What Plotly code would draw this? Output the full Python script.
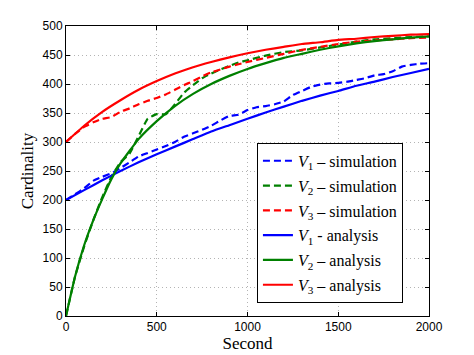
import plotly.graph_objects as go

# ---- data ----
t_analysis = [0, 100, 200, 300, 400, 500, 600, 700, 800, 900, 1000,
              1100, 1200, 1300, 1400, 1500, 1600, 1700, 1800, 1900, 2000]
v1_analysis = [200, 217, 234, 250, 265, 279, 292, 305, 318, 329, 340,
               351, 361, 371, 380, 388, 397, 404, 412, 419, 426]
v3_analysis = [300, 328, 352, 372, 390, 405, 418, 429, 438, 446, 453,
               459, 464, 469, 472, 476, 478, 481, 483, 485, 486]

t_v2_analysis = [0, 50, 100, 150, 200, 250, 300, 400, 500, 600, 700, 800, 900, 1000,
                 1100, 1200, 1300, 1400, 1500, 1600, 1700, 1800, 1900, 2000]
v2_analysis = [0, 68, 122, 165, 202, 236, 263, 305, 336, 362, 383, 400, 414, 426,
               436, 445, 452, 459, 465, 470, 474, 477, 480, 482]

t_v1_sim = [0, 50, 100, 150, 200, 250, 300, 350, 400, 450, 500, 550, 600, 650, 700,
            750, 800, 850, 900, 950, 1000, 1050, 1100, 1150, 1200, 1250, 1300, 1350,
            1400, 1450, 1500, 1550, 1600, 1650, 1700, 1750, 1800, 1850, 1900, 1950, 2000]
v1_sim = [200, 210, 220, 233, 240, 246, 255, 265, 275, 281, 287, 293, 300, 309, 315,
          321, 328, 337, 345, 347, 355, 360, 362, 365, 370, 381, 388, 395,
          399, 401, 402, 404, 407, 410, 415, 417, 422, 430, 433, 435, 436]

t_sim = [0, 50, 100, 150, 200, 250, 300, 350, 400, 450, 500, 550, 600, 650, 700,
         750, 800, 850, 900, 950, 1000, 1100, 1200, 1300, 1400, 1500, 1600, 1700,
         1800, 1900, 2000]
v2_sim = [0, 68, 120, 165, 205, 240, 265, 280, 310, 340, 348, 348, 365, 385, 398,
          410, 418, 425, 431, 437, 441, 449, 455, 458, 463, 468, 473, 477,
          479, 481, 482]
v3_sim = [300, 314, 326, 334, 340, 343, 352, 358, 365, 371, 376, 382, 390, 398, 405,
          413, 420, 425, 430, 434, 438, 445, 452, 459, 464, 469, 473, 475,
          477, 479, 480]

x_ticks = [0, 500, 1000, 1500, 2000]
y_ticks = [0, 50, 100, 150, 200, 250, 300, 350, 400, 450, 500]

BLUE = "#0000ff"
GREEN = "#008000"
RED = "#ff0000"
DASH = "7px,4px"

series = [
    (t_v1_sim, v1_sim, BLUE, DASH, "<i>V</i><sub>1</sub> \u2013 simulation"),
    (t_sim, v2_sim, GREEN, DASH, "<i>V</i><sub>2</sub> \u2013 simulation"),
    (t_sim, v3_sim, RED, DASH, "<i>V</i><sub>3</sub> \u2013 simulation"),
    (t_analysis, v1_analysis, BLUE, "solid", "<i>V</i><sub>1</sub> - analysis"),
    (t_v2_analysis, v2_analysis, GREEN, "solid", "<i>V</i><sub>2</sub> \u2013 analysis"),
    (t_analysis, v3_analysis, RED, "solid", "<i>V</i><sub>3</sub> \u2013 analysis"),
]

fig = go.Figure()
for i, (x, y, c, d, name) in enumerate(series):
    fig.add_trace(go.Scatter(
        x=x, y=y, mode="lines", name=name, legendgroup=f"g{i}",
        line=dict(color=c, width=2.2, dash=d, shape="spline", smoothing=0.4),
    ))

serif = "Liberation Serif, DejaVu Serif, serif"
sans = "Liberation Sans, Arial, sans-serif"

axis_common = dict(
    showline=True, linecolor="black", linewidth=1, mirror="ticks",
    ticks="inside", ticklen=4, tickcolor="black",
    showgrid=True, gridcolor="#b4b4b4", griddash="1px,3px", gridwidth=1,
    zeroline=False, automargin=False,
    tickfont=dict(family=sans, size=12, color="black"),
)

fig.update_xaxes(range=[0, 2000], tickvals=x_ticks,
                 title=dict(text="Second", font=dict(family=serif, size=17, color="black"), standoff=0),
                 **axis_common)
fig.update_yaxes(range=[0, 500], tickvals=y_ticks,
                 title=dict(text="Cardinality", font=dict(family=serif, size=17, color="black"), standoff=4),
                 **axis_common)

fig.update_layout(
    width=474, height=355,
    margin=dict(l=66, r=45, t=26, b=39),
    plot_bgcolor="white", paper_bgcolor="white",
    showlegend=True,
    legend=dict(
        x=0.526, y=0.597, xanchor="left", yanchor="top",
        bgcolor="white", bordercolor="black", borderwidth=1,
        font=dict(family=serif, size=16, color="black"),
        traceorder="grouped", tracegroupgap=1,
        itemwidth=30,
    ),
)

fig.write_html("out.html", config={"displayModeBar": False},
               post_script="document.body.style.margin='0px';")
